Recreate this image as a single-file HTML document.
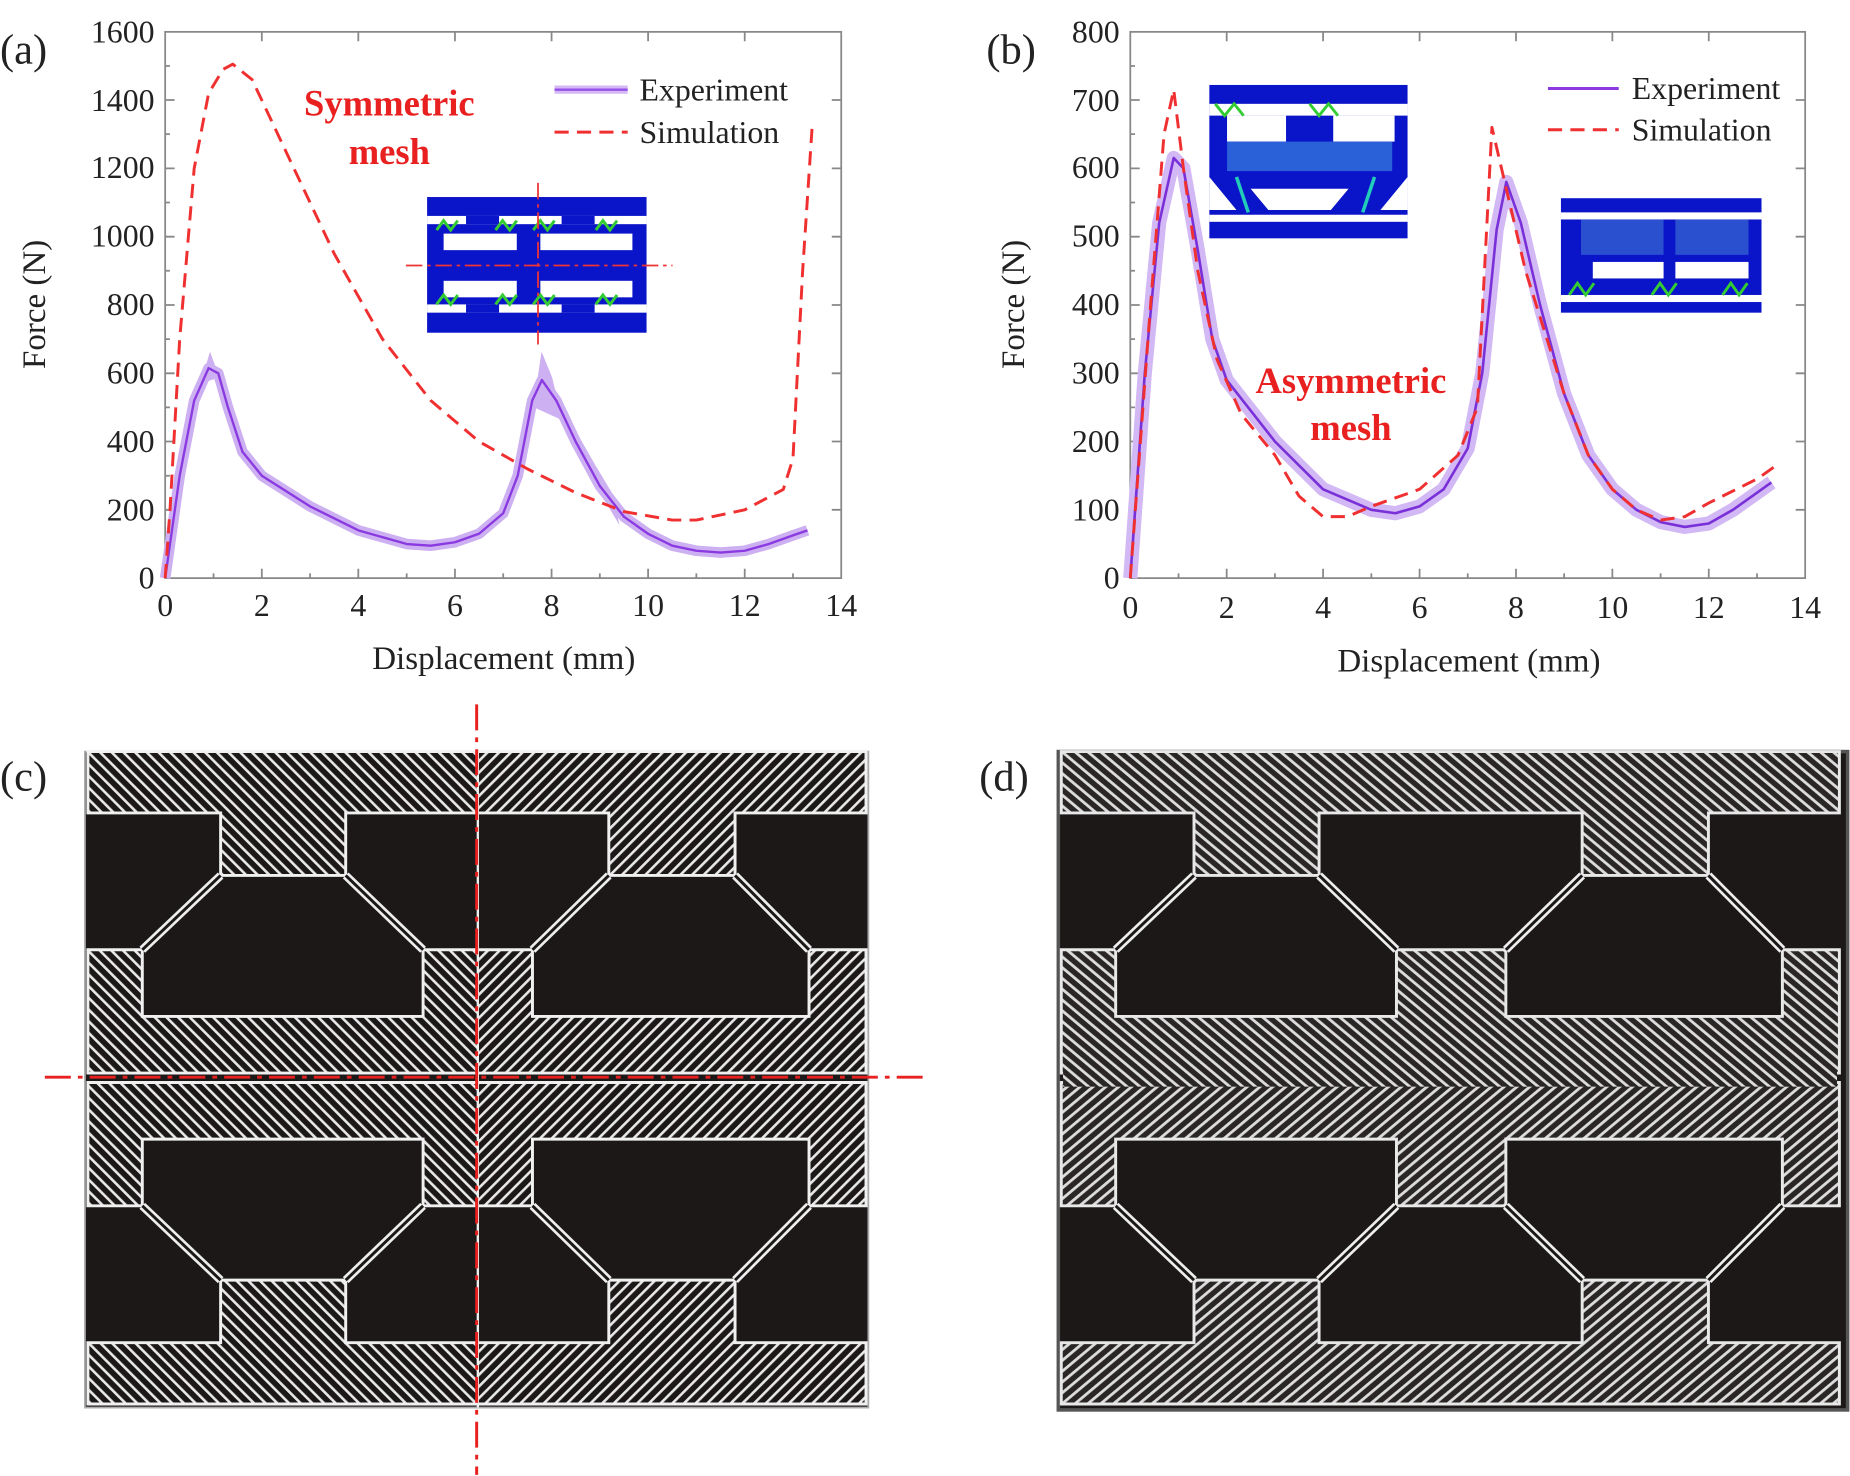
<!DOCTYPE html>
<html><head><meta charset="utf-8"><style>
html,body{margin:0;padding:0;background:#fff}
svg{display:block}
text{font-family:"Liberation Serif",serif;fill:#222}
</style></head><body>
<svg width="1850" height="1476" viewBox="0 0 1568 1251" preserveAspectRatio="none" xmlns="http://www.w3.org/2000/svg">
<defs>
<pattern id="hA" patternUnits="userSpaceOnUse" width="7" height="7" patternTransform="rotate(45)">
<rect width="7" height="7" fill="#1c1818"/><rect x="0" y="0" width="2.2" height="7" fill="#e8e8e8"/></pattern>
<pattern id="hB" patternUnits="userSpaceOnUse" width="7" height="7" patternTransform="rotate(-45)">
<rect width="7" height="7" fill="#1c1818"/><rect x="0" y="0" width="2.2" height="7" fill="#e8e8e8"/></pattern>
<pattern id="hD" patternUnits="userSpaceOnUse" width="7" height="7" patternTransform="rotate(-50)">
<rect width="7" height="7" fill="#2a2626"/><rect x="0" y="0" width="2.4" height="7" fill="#dcdcdc"/></pattern>
<clipPath id="cl"><rect x="60" y="600" width="345" height="620"/></clipPath>
<clipPath id="cr"><rect x="405" y="600" width="345" height="620"/></clipPath>
<g id="half">
<path d="M74.5,637 H734 V689 H623 V742 H516 V689 H293 V742 H187 V689 H74.5 Z"/>
<path d="M74.5,805 H120.6 V861.5 H358.6 V805 H451.3 V861.5 H685.7 V805 H734 V909.5 H74.5 Z"/>
</g>
<g id="walls" fill="none">
<g stroke="#eee" stroke-width="7"><path d="M187,742 L120.6,805 M293,742 L358.6,805 M516,742 L451.3,805 M623,742 L685.7,805"/></g>
<g stroke="#1c1818" stroke-width="2.5"><path d="M187,742 L120.6,805 M293,742 L358.6,805 M516,742 L451.3,805 M623,742 L685.7,805"/></g>
</g>
</defs>

<!-- ===== Plot (a) ===== -->
<text x="0" y="54" font-size="36">(a)</text>
<rect x="140" y="27" width="573" height="463" fill="none" stroke="#888" stroke-width="1.5"/>
<g stroke="#888" stroke-width="1.5">
<path d="M140,432.1h8M140,374.2h8M140,316.4h8M140,258.5h8M140,200.6h8M140,142.7h8M140,84.8h8M713,432.1h-8M713,374.2h-8M713,316.4h-8M713,258.5h-8M713,200.6h-8M713,142.7h-8M713,84.8h-8"/>
<path d="M221.9,490v-8M303.7,490v-8M385.6,490v-8M467.5,490v-8M549.3,490v-8M631.2,490v-8M221.9,27v8M303.7,27v8M385.6,27v8M467.5,27v8M549.3,27v8M631.2,27v8"/>
<path d="M181,490v-4M262.8,490v-4M344.7,490v-4M426.5,490v-4M508.4,490v-4M590.2,490v-4M672.1,490v-4M140,461h4M140,403.2h4M140,345.3h4M140,287.4h4M140,229.5h4M140,171.6h4M140,113.7h4M140,55.9h4"/>
</g>
<g font-size="27" text-anchor="end">
<text x="131" y="499">0</text><text x="131" y="441">200</text><text x="131" y="383">400</text><text x="131" y="325">600</text><text x="131" y="267">800</text><text x="131" y="209">1000</text><text x="131" y="151">1200</text><text x="131" y="94">1400</text><text x="131" y="36">1600</text>
</g>
<g font-size="27" text-anchor="middle">
<text x="140" y="522">0</text><text x="221.9" y="522">2</text><text x="303.7" y="522">4</text><text x="385.6" y="522">6</text><text x="467.5" y="522">8</text><text x="549.3" y="522">10</text><text x="631.2" y="522">12</text><text x="713" y="522">14</text>
</g>
<text x="427" y="567" font-size="28" text-anchor="middle">Displacement (mm)</text>
<text transform="translate(38,258) rotate(-90)" font-size="28" text-anchor="middle">Force (N)</text>

<!-- inset a -->
<g>
<rect x="362" y="167" width="186" height="115" fill="#0a14c8"/>
<rect x="362" y="183" width="186" height="7" fill="#fff"/>
<rect x="362" y="258" width="186" height="7" fill="#fff"/>
<rect x="376" y="198" width="62" height="14" fill="#fff"/><rect x="458" y="198" width="78" height="14" fill="#fff"/>
<rect x="376" y="238" width="62" height="14" fill="#fff"/><rect x="458" y="238" width="78" height="14" fill="#fff"/>
<rect x="395" y="183" width="28" height="7" fill="#0a14c8"/><rect x="476" y="183" width="28" height="7" fill="#0a14c8"/>
<rect x="395" y="258" width="28" height="7" fill="#0a14c8"/><rect x="476" y="258" width="28" height="7" fill="#0a14c8"/>
<g fill="none" stroke="#3c3" stroke-width="2.5"><path d="M370,195 l6,-8 6,8 6,-8 M420,195 l6,-8 6,8 6,-8 M452,195 l6,-8 6,8 6,-8 M505,195 l6,-8 6,8 6,-8 M370,258 l6,-8 6,8 6,-8 M420,258 l6,-8 6,8 6,-8 M452,258 l6,-8 6,8 6,-8 M505,258 l6,-8 6,8 6,-8"/></g>
<g fill="none" stroke="#e33" stroke-width="1.5" stroke-dasharray="14 4 3 4"><path d="M344,225 H570 M456,155 V292"/></g>
</g>

<text x="330" y="98" font-size="31" font-weight="bold" style="fill:#e82020" text-anchor="middle">Symmetric</text>
<text x="330" y="139" font-size="31" font-weight="bold" style="fill:#e82020" text-anchor="middle">mesh</text>

<!-- legend a -->
<line x1="470" y1="76" x2="532" y2="76" stroke="#d4b8f4" stroke-width="7"/>
<line x1="470" y1="76" x2="532" y2="76" stroke="#9450e8" stroke-width="2"/>
<line x1="470" y1="112" x2="532" y2="112" stroke="#f03030" stroke-width="2.5" stroke-dasharray="12 7"/>
<text x="542" y="85" font-size="27">Experiment</text>
<text x="542" y="121" font-size="27">Simulation</text>

<g fill="none" stroke-linejoin="round">
<polyline stroke="#cdb0f2" stroke-width="9" points="140,490 152.3,403.2 164.6,339.5 176.8,312 185,316.4 193.2,345.3 205.5,382.9 221.9,403.2 262.8,429.2 303.7,449.5 344.7,461.1 365.1,462.5 385.6,459.6 406,452.4 426.5,435 438.8,403.2 451.1,339.5 459.3,322.1 471.5,339.5 487.9,374.2 508.4,411.9 528.8,437.9 549.3,452.4 569.8,462.5 590.2,466.8 610.7,468.3 631.2,466.8 651.6,461.1 672.1,453.8 684.4,449.5"/>
<path d="M170,325 L178,298 L186,320 Z M452,345 L459,298 L468,320 L475,350 L490,385 L510,420 L525,445 L520,420 L505,395 L485,360 Z" fill="#cdb0f2" stroke="none"/>
<polyline stroke="#8a3ae0" stroke-width="2" points="140,490 152.3,403.2 164.6,339.5 176.8,312 185,316.4 193.2,345.3 205.5,382.9 221.9,403.2 262.8,429.2 303.7,449.5 344.7,461.1 365.1,462.5 385.6,459.6 406,452.4 426.5,435 438.8,403.2 451.1,339.5 459.3,322.1 471.5,339.5 487.9,374.2 508.4,411.9 528.8,437.9 549.3,452.4 569.8,462.5 590.2,466.8 610.7,468.3 631.2,466.8 651.6,461.1 672.1,453.8 684.4,449.5"/>
<polyline stroke="#f03030" stroke-width="2.5" stroke-dasharray="12 7" points="140,490 144.1,432.1 152.3,287.4 164.6,142.7 176.8,79.1 189.1,58.8 197.3,54.4 213.7,67.5 242.3,128.3 283.3,215.1 324.2,287.4 365.1,339.5 406,374.2 447,397.4 487.9,417.6 528.8,433.6 569.8,440.8 590.2,440.8 631.2,432.1 663.9,414.8 672.1,388.7 680.3,229.5 688.5,105.1"/>
</g>

<!-- ===== Plot (b) ===== -->
<text x="836" y="54" font-size="36">(b)</text>
<rect x="958" y="27" width="572" height="463" fill="none" stroke="#888" stroke-width="1.5"/>
<g stroke="#888" stroke-width="1.5">
<path d="M958,432.1h8M958,374.2h8M958,316.4h8M958,258.5h8M958,200.6h8M958,142.7h8M958,84.8h8M1530,432.1h-8M1530,374.2h-8M1530,316.4h-8M1530,258.5h-8M1530,200.6h-8M1530,142.7h-8M1530,84.8h-8"/>
<path d="M1039.7,490v-8M1121.4,490v-8M1203.2,490v-8M1284.9,490v-8M1366.6,490v-8M1448.3,490v-8M1039.7,27v8M1121.4,27v8M1203.2,27v8M1284.9,27v8M1366.6,27v8M1448.3,27v8"/>
<path d="M998.9,490v-4M1080.6,490v-4M1162.3,490v-4M1244,490v-4M1325.7,490v-4M1407.5,490v-4M1489.2,490v-4M958,461h4M958,403.2h4M958,345.3h4M958,287.4h4M958,229.5h4M958,171.6h4M958,113.7h4M958,55.9h4"/>
</g>
<g font-size="27" text-anchor="end">
<text x="949" y="499">0</text><text x="949" y="441">100</text><text x="949" y="383">200</text><text x="949" y="325">300</text><text x="949" y="267">400</text><text x="949" y="209">500</text><text x="949" y="151">600</text><text x="949" y="94">700</text><text x="949" y="36">800</text>
</g>
<g font-size="27" text-anchor="middle">
<text x="958" y="524">0</text><text x="1039.7" y="524">2</text><text x="1121.4" y="524">4</text><text x="1203.2" y="524">6</text><text x="1284.9" y="524">8</text><text x="1366.6" y="524">10</text><text x="1448.3" y="524">12</text><text x="1530" y="524">14</text>
</g>
<text x="1245" y="569" font-size="28" text-anchor="middle">Displacement (mm)</text>
<text transform="translate(868,258) rotate(-90)" font-size="28" text-anchor="middle">Force (N)</text>

<!-- inset b1 -->
<g>
<rect x="1025" y="72" width="168" height="130" fill="#0a14c8"/>
<rect x="1025" y="88" width="168" height="10" fill="#fff"/>
<rect x="1025" y="182" width="168" height="6" fill="#fff"/>
<rect x="1040" y="98" width="50" height="22" fill="#fff"/><rect x="1130" y="98" width="52" height="22" fill="#fff"/>
<path d="M1060,160 L1075,178 H1128 L1143,160 Z M1025,150 V178 H1048 Z M1193,150 V178 H1170 Z" fill="#fff"/>
<rect x="1040" y="120" width="140" height="25" fill="#2a60d8"/>
<path d="M1030,88 l8,10 8,-10 8,10 M1110,88 l8,10 8,-10 8,10" fill="none" stroke="#3c3" stroke-width="2.5"/>
<path d="M1048,150 l10,30 M1165,150 l-10,30" stroke="#2cb" stroke-width="3"/>
</g>
<!-- inset b2 -->
<g>
<rect x="1323" y="168" width="170" height="97" fill="#0a14c8"/>
<rect x="1323" y="180" width="170" height="6" fill="#fff"/>
<rect x="1323" y="250" width="170" height="6" fill="#fff"/>
<rect x="1340" y="186" width="70" height="30" fill="#2a50d0"/><rect x="1420" y="186" width="62" height="30" fill="#2a50d0"/>
<rect x="1350" y="222" width="60" height="14" fill="#fff"/><rect x="1420" y="222" width="62" height="14" fill="#fff"/>
<path d="M1330,250 l7,-10 7,10 7,-10 M1400,250 l7,-10 7,10 7,-10 M1460,250 l7,-10 7,10 7,-10" fill="none" stroke="#3c3" stroke-width="2.5"/>
</g>

<text x="1145" y="333" font-size="31" font-weight="bold" style="fill:#e82020" text-anchor="middle">Asymmetric</text>
<text x="1145" y="373" font-size="31" font-weight="bold" style="fill:#e82020" text-anchor="middle">mesh</text>

<line x1="1312" y1="75" x2="1372" y2="75" stroke="#8a3ae0" stroke-width="2.5"/>
<line x1="1312" y1="110" x2="1372" y2="110" stroke="#f03030" stroke-width="2.5" stroke-dasharray="12 7"/>
<text x="1383" y="84" font-size="27">Experiment</text>
<text x="1383" y="119" font-size="27">Simulation</text>

<g fill="none" stroke-linejoin="round">
<polyline stroke="#d2b8f4" stroke-width="12" points="958,490 970.3,316.3 982.5,188.9 994.8,133.9 1003,142.6 1015.2,212.1 1027.5,287.4 1039.7,322.1 1080.6,374.2 1121.4,414.7 1162.3,432.1 1182.7,435 1203.2,429.2 1223.6,414.7 1244,380 1256.3,316.3 1268.5,194.7 1276.7,154.2 1289,188.9 1305.3,258.4 1325.7,333.7 1346.2,385.8 1366.6,414.7 1387,432.1 1407.5,442.5 1427.9,446.6 1448.3,443.7 1468.8,432.1 1489.2,417.6 1501.4,408.9"/>
<polyline stroke="#7a30d8" stroke-width="2.2" points="958,490 970.3,316.3 982.5,188.9 994.8,133.9 1003,142.6 1015.2,212.1 1027.5,287.4 1039.7,322.1 1080.6,374.2 1121.4,414.7 1162.3,432.1 1182.7,435 1203.2,429.2 1223.6,414.7 1244,380 1256.3,316.3 1268.5,194.7 1276.7,154.2 1289,188.9 1305.3,258.4 1325.7,333.7 1346.2,385.8 1366.6,414.7 1387,432.1 1407.5,442.5 1427.9,446.6 1448.3,443.7 1468.8,432.1 1489.2,417.6 1501.4,408.9"/>
<polyline stroke="#f03030" stroke-width="2.5" stroke-dasharray="12 7" points="958,490 974.3,270 986.6,113.7 994.8,76 1003,142.6 1015.2,229.5 1031.5,304.7 1052,351 1080.6,385.8 1101,420.5 1121.4,437.9 1141.9,437.9 1162.3,429.2 1203.2,414.7 1235.8,385.8 1252.2,345.3 1264.5,107.9 1272.6,142.6 1293,229.5 1325.7,333.7 1346.2,385.8 1366.6,414.7 1387,432.1 1407.5,440.8 1427.9,437.9 1448.3,426.3 1489.2,406 1505.5,394.5"/>
</g>

<!-- ===== (c) ===== -->
<text x="0" y="670" font-size="36">(c)</text>
<rect x="72" y="637" width="664" height="556" fill="#1c1818" stroke="#aaa" stroke-width="1.5"/>
<g stroke="#f0f0f0" stroke-width="2.5">
<g clip-path="url(#cl)">
<use href="#half" fill="url(#hB)"/>
<use href="#half" fill="url(#hA)" transform="matrix(1,0,0,-1,0,1827)"/>
</g>
<g clip-path="url(#cr)">
<use href="#half" fill="url(#hA)"/>
<use href="#half" fill="url(#hB)" transform="matrix(1,0,0,-1,0,1827)"/>
</g>
</g>
<use href="#walls"/>
<use href="#walls" transform="matrix(1,0,0,-1,0,1827)"/>
<line x1="405" y1="637" x2="405" y2="1193" stroke="#eee" stroke-width="2"/>
<g stroke="#e82020" stroke-width="2.5" stroke-dasharray="22 6 4 6" fill="none">
<path d="M404,597 V1250 M38,913 H788"/>
</g>

<!-- ===== (d) ===== -->
<text x="830" y="670" font-size="36">(d)</text>
<g transform="translate(825,0)">
<rect x="72" y="637" width="669" height="558" fill="#1c1818" stroke="#555" stroke-width="3"/>
<g stroke="#e8e8e8" stroke-width="2.5">
<use href="#half" fill="url(#hD)"/>
<use href="#half" fill="url(#hD)" transform="matrix(1,0,0,-1,0,1827)"/>
</g>
<rect x="76" y="905" width="656" height="16" fill="url(#hD)"/>
<use href="#walls"/>
<use href="#walls" transform="matrix(1,0,0,-1,0,1827)"/>
</g>
</svg>
</body></html>
